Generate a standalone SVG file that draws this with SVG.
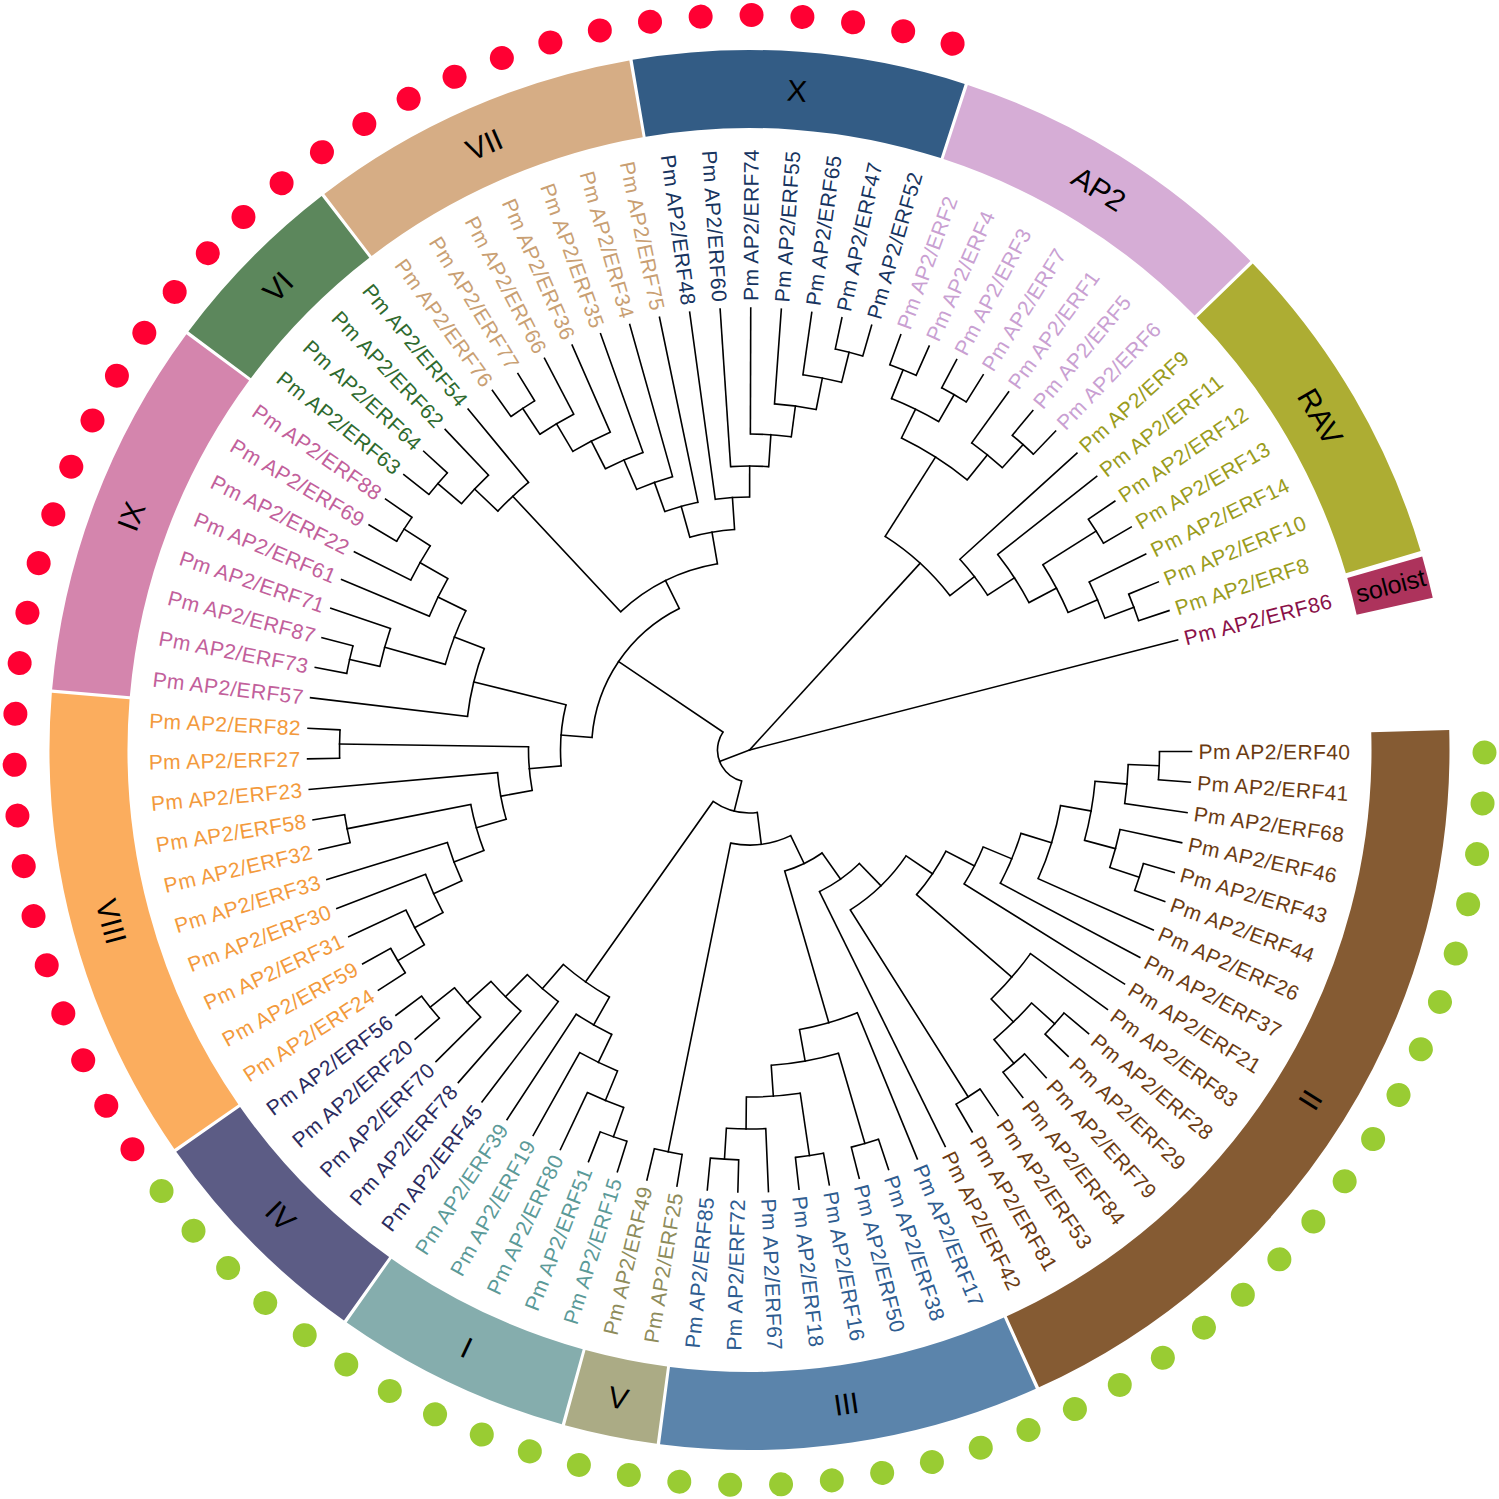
<svg xmlns="http://www.w3.org/2000/svg" width="1499" height="1499" viewBox="0 0 1499 1499">
<style>
.t{font-family:"Liberation Sans",Arial,sans-serif;font-size:21px;letter-spacing:0.4px;dominant-baseline:central}
.e{text-anchor:end}
.c line{stroke:#000;stroke-width:1.6;stroke-linecap:square}
.c circle{fill:none;stroke:#000;stroke-width:1.6}
.b{fill:none;stroke-width:78}
.bl{font-family:"Liberation Sans",Arial,sans-serif;font-size:30px;text-anchor:middle;dominant-baseline:central;fill:#000}
.rd{fill:#ff0033}.gr{fill:#99cc33}
.c2{fill:#6b3b12}.c3{fill:#2e5c90}.c5{fill:#8e8c5b}.c1{fill:#5b9a98}.c4{fill:#2b2b5e}.c8{fill:#f39a3c}.c9{fill:#c2609b}.c6{fill:#2e6a2e}.c7{fill:#c99f73}.cX{fill:#173460}.cA{fill:#c9a0d2}.cR{fill:#9a9c1c}.cS{fill:#8a1048}
</style>
<rect width="1499" height="1499" fill="#fff"/>
<g transform="translate(749.5,750)">
<g id="bands">
<circle class="b" r="661" stroke="#855b33" pathLength="360" stroke-dasharray="67.2 400" transform="rotate(-1.635)"/>
<circle class="b" r="661" stroke="#5b84ab" pathLength="360" stroke-dasharray="31.49 400" transform="rotate(65.855)"/>
<circle class="b" r="661" stroke="#abab85" pathLength="360" stroke-dasharray="7.67 400" transform="rotate(97.615)"/>
<circle class="b" r="661" stroke="#85adad" pathLength="360" stroke-dasharray="19.58 400" transform="rotate(105.555)"/>
<circle class="b" r="661" stroke="#5c5c85" pathLength="360" stroke-dasharray="19.58 400" transform="rotate(125.405)"/>
<circle class="b" r="661" stroke="#fbad5e" pathLength="360" stroke-dasharray="39.43 400" transform="rotate(145.255)"/>
<circle class="b" r="661" stroke="#d485ad" pathLength="360" stroke-dasharray="31.49 400" transform="rotate(184.955)"/>
<circle class="b" r="661" stroke="#5c875c" pathLength="360" stroke-dasharray="15.61 400" transform="rotate(216.715)"/>
<circle class="b" r="661" stroke="#d6ad85" pathLength="360" stroke-dasharray="27.52 400" transform="rotate(232.595)"/>
<circle class="b" r="661" stroke="#335c85" pathLength="360" stroke-dasharray="27.52 400" transform="rotate(260.385)"/>
<circle class="b" r="661" stroke="#d6add6" pathLength="360" stroke-dasharray="27.52 400" transform="rotate(288.175)"/>
<circle class="b" r="661" stroke="#adad33" pathLength="360" stroke-dasharray="27.52 400" transform="rotate(315.965)"/>
<circle class="b" r="661" stroke="#ad335c" pathLength="360" stroke-dasharray="3.5 400" transform="rotate(343.95)"/>
<text class="bl" transform="rotate(31.96)translate(661)rotate(-90)">II</text>
<text class="bl" transform="rotate(81.57)translate(661)rotate(-90)">III</text>
<text class="bl" transform="rotate(101.44)translate(661)rotate(-90)">V</text>
<text class="bl" transform="rotate(115.33)translate(661)rotate(-90)">I</text>
<text class="bl" transform="rotate(135.18)translate(661)rotate(-90)">IV</text>
<text class="bl" transform="rotate(164.96)translate(661)rotate(-90)">VIII</text>
<text class="bl" transform="rotate(200.7)translate(661)rotate(90)">IX</text>
<text class="bl" transform="rotate(224.5)translate(661)rotate(90)">VI</text>
<text class="bl" transform="rotate(246.34)translate(661)rotate(90)">VII</text>
<text class="bl" transform="rotate(274.13)translate(661)rotate(90)">X</text>
<text class="bl" transform="rotate(301.92)translate(661)rotate(90)">AP2</text>
<text class="bl" transform="rotate(329.71)translate(661)rotate(90)">RAV</text>
<text class="bl" style="font-size:25px" transform="rotate(345.59)translate(662)">soloist</text>
</g>
<g id="dots">
<circle class="gr" cx="735" r="12" transform="rotate(0.20)"/>
<circle class="gr" cx="735" r="12" transform="rotate(4.17)"/>
<circle class="gr" cx="735" r="12" transform="rotate(8.14)"/>
<circle class="gr" cx="735" r="12" transform="rotate(12.11)"/>
<circle class="gr" cx="735" r="12" transform="rotate(16.08)"/>
<circle class="gr" cx="735" r="12" transform="rotate(20.05)"/>
<circle class="gr" cx="735" r="12" transform="rotate(24.02)"/>
<circle class="gr" cx="735" r="12" transform="rotate(27.99)"/>
<circle class="gr" cx="735" r="12" transform="rotate(31.96)"/>
<circle class="gr" cx="735" r="12" transform="rotate(35.93)"/>
<circle class="gr" cx="735" r="12" transform="rotate(39.90)"/>
<circle class="gr" cx="735" r="12" transform="rotate(43.87)"/>
<circle class="gr" cx="735" r="12" transform="rotate(47.84)"/>
<circle class="gr" cx="735" r="12" transform="rotate(51.81)"/>
<circle class="gr" cx="735" r="12" transform="rotate(55.78)"/>
<circle class="gr" cx="735" r="12" transform="rotate(59.75)"/>
<circle class="gr" cx="735" r="12" transform="rotate(63.72)"/>
<circle class="gr" cx="735" r="12" transform="rotate(67.69)"/>
<circle class="gr" cx="735" r="12" transform="rotate(71.66)"/>
<circle class="gr" cx="735" r="12" transform="rotate(75.63)"/>
<circle class="gr" cx="735" r="12" transform="rotate(79.60)"/>
<circle class="gr" cx="735" r="12" transform="rotate(83.57)"/>
<circle class="gr" cx="735" r="12" transform="rotate(87.54)"/>
<circle class="gr" cx="735" r="12" transform="rotate(91.51)"/>
<circle class="gr" cx="735" r="12" transform="rotate(95.48)"/>
<circle class="gr" cx="735" r="12" transform="rotate(99.45)"/>
<circle class="gr" cx="735" r="12" transform="rotate(103.42)"/>
<circle class="gr" cx="735" r="12" transform="rotate(107.39)"/>
<circle class="gr" cx="735" r="12" transform="rotate(111.36)"/>
<circle class="gr" cx="735" r="12" transform="rotate(115.33)"/>
<circle class="gr" cx="735" r="12" transform="rotate(119.30)"/>
<circle class="gr" cx="735" r="12" transform="rotate(123.27)"/>
<circle class="gr" cx="735" r="12" transform="rotate(127.24)"/>
<circle class="gr" cx="735" r="12" transform="rotate(131.21)"/>
<circle class="gr" cx="735" r="12" transform="rotate(135.18)"/>
<circle class="gr" cx="735" r="12" transform="rotate(139.15)"/>
<circle class="gr" cx="735" r="12" transform="rotate(143.12)"/>
<circle class="rd" cx="735" r="12" transform="rotate(147.09)"/>
<circle class="rd" cx="735" r="12" transform="rotate(151.06)"/>
<circle class="rd" cx="735" r="12" transform="rotate(155.03)"/>
<circle class="rd" cx="735" r="12" transform="rotate(159.00)"/>
<circle class="rd" cx="735" r="12" transform="rotate(162.97)"/>
<circle class="rd" cx="735" r="12" transform="rotate(166.94)"/>
<circle class="rd" cx="735" r="12" transform="rotate(170.91)"/>
<circle class="rd" cx="735" r="12" transform="rotate(174.88)"/>
<circle class="rd" cx="735" r="12" transform="rotate(178.85)"/>
<circle class="rd" cx="735" r="12" transform="rotate(182.82)"/>
<circle class="rd" cx="735" r="12" transform="rotate(186.79)"/>
<circle class="rd" cx="735" r="12" transform="rotate(190.76)"/>
<circle class="rd" cx="735" r="12" transform="rotate(194.73)"/>
<circle class="rd" cx="735" r="12" transform="rotate(198.70)"/>
<circle class="rd" cx="735" r="12" transform="rotate(202.67)"/>
<circle class="rd" cx="735" r="12" transform="rotate(206.64)"/>
<circle class="rd" cx="735" r="12" transform="rotate(210.61)"/>
<circle class="rd" cx="735" r="12" transform="rotate(214.58)"/>
<circle class="rd" cx="735" r="12" transform="rotate(218.55)"/>
<circle class="rd" cx="735" r="12" transform="rotate(222.52)"/>
<circle class="rd" cx="735" r="12" transform="rotate(226.49)"/>
<circle class="rd" cx="735" r="12" transform="rotate(230.46)"/>
<circle class="rd" cx="735" r="12" transform="rotate(234.43)"/>
<circle class="rd" cx="735" r="12" transform="rotate(238.40)"/>
<circle class="rd" cx="735" r="12" transform="rotate(242.37)"/>
<circle class="rd" cx="735" r="12" transform="rotate(246.34)"/>
<circle class="rd" cx="735" r="12" transform="rotate(250.31)"/>
<circle class="rd" cx="735" r="12" transform="rotate(254.28)"/>
<circle class="rd" cx="735" r="12" transform="rotate(258.25)"/>
<circle class="rd" cx="735" r="12" transform="rotate(262.22)"/>
<circle class="rd" cx="735" r="12" transform="rotate(266.19)"/>
<circle class="rd" cx="735" r="12" transform="rotate(270.16)"/>
<circle class="rd" cx="735" r="12" transform="rotate(274.13)"/>
<circle class="rd" cx="735" r="12" transform="rotate(278.10)"/>
<circle class="rd" cx="735" r="12" transform="rotate(282.07)"/>
<circle class="rd" cx="735" r="12" transform="rotate(286.04)"/>
</g>
<g id="connectors" class="c">
<line x2="442" transform="rotate(345.59)"/>
<line x2="253" transform="rotate(312.41)"/>
<line x2="32" transform="rotate(159.07)"/>
<circle r="253" pathLength="360" stroke-dasharray="19.97 400" transform="rotate(302.42)"/>
<line x1="253" x2="347" transform="rotate(302.42)"/>
<circle r="347" pathLength="360" stroke-dasharray="12.9 400" transform="rotate(295.97)"/>
<line x1="347" x2="379" transform="rotate(295.97)"/>
<circle r="379" pathLength="360" stroke-dasharray="7.94 400" transform="rotate(292.0)"/>
<line x1="379" x2="410" transform="rotate(292.0)"/>
<circle r="410" pathLength="360" stroke-dasharray="3.97 400" transform="rotate(290.01)"/>
<line x1="410" x2="442" transform="rotate(290.01)"/>
<line x1="410" x2="442" transform="rotate(293.98)"/>
<line x1="379" x2="410" transform="rotate(299.94)"/>
<circle r="410" pathLength="360" stroke-dasharray="3.97 400" transform="rotate(297.95)"/>
<line x1="410" x2="442" transform="rotate(297.95)"/>
<line x1="410" x2="442" transform="rotate(301.92)"/>
<line x1="347" x2="379" transform="rotate(308.87)"/>
<circle r="379" pathLength="360" stroke-dasharray="5.96 400" transform="rotate(305.89)"/>
<line x1="379" x2="442" transform="rotate(305.89)"/>
<line x1="379" x2="410" transform="rotate(311.85)"/>
<circle r="410" pathLength="360" stroke-dasharray="3.97 400" transform="rotate(309.86)"/>
<line x1="410" x2="442" transform="rotate(309.86)"/>
<line x1="410" x2="442" transform="rotate(313.83)"/>
<line x1="253" x2="284" transform="rotate(322.39)"/>
<circle r="284" pathLength="360" stroke-dasharray="9.18 400" transform="rotate(317.80)"/>
<line x1="284" x2="442" transform="rotate(317.80)"/>
<line x1="284" x2="316" transform="rotate(326.98)"/>
<circle r="316" pathLength="360" stroke-dasharray="10.42 400" transform="rotate(321.77)"/>
<line x1="316" x2="442" transform="rotate(321.77)"/>
<line x1="316" x2="347" transform="rotate(332.19)"/>
<circle r="347" pathLength="360" stroke-dasharray="8.93 400" transform="rotate(327.73)"/>
<line x1="347" x2="410" transform="rotate(327.73)"/>
<circle r="410" pathLength="360" stroke-dasharray="3.97 400" transform="rotate(325.74)"/>
<line x1="410" x2="442" transform="rotate(325.74)"/>
<line x1="410" x2="442" transform="rotate(329.71)"/>
<line x1="347" x2="379" transform="rotate(336.66)"/>
<circle r="379" pathLength="360" stroke-dasharray="5.96 400" transform="rotate(333.68)"/>
<line x1="379" x2="442" transform="rotate(333.68)"/>
<line x1="379" x2="410" transform="rotate(339.64)"/>
<circle r="410" pathLength="360" stroke-dasharray="3.97 400" transform="rotate(337.65)"/>
<line x1="410" x2="442" transform="rotate(337.65)"/>
<line x1="410" x2="442" transform="rotate(341.62)"/>
<circle r="32" pathLength="360" stroke-dasharray="109.99 400" transform="rotate(104.07)"/>
<line x1="32" x2="63" transform="rotate(104.07)"/>
<line x1="32" x2="158" transform="rotate(214.06)"/>
<circle r="158" pathLength="360" stroke-dasharray="59.1 400" transform="rotate(184.51)"/>
<line x1="158" x2="189" transform="rotate(184.51)"/>
<circle r="189" pathLength="360" stroke-dasharray="18.7 400" transform="rotate(175.16)"/>
<line x1="189" x2="221" transform="rotate(175.16)"/>
<circle r="221" pathLength="360" stroke-dasharray="11.36 400" transform="rotate(169.48)"/>
<line x1="221" x2="410" transform="rotate(180.84)"/>
<circle r="410" pathLength="360" stroke-dasharray="3.97 400" transform="rotate(178.85)"/>
<line x1="410" x2="442" transform="rotate(178.85)"/>
<line x1="410" x2="442" transform="rotate(182.82)"/>
<line x1="221" x2="253" transform="rotate(169.48)"/>
<circle r="253" pathLength="360" stroke-dasharray="10.79 400" transform="rotate(164.09)"/>
<line x1="253" x2="442" transform="rotate(174.88)"/>
<line x1="253" x2="284" transform="rotate(164.09)"/>
<circle r="284" pathLength="360" stroke-dasharray="9.68 400" transform="rotate(159.25)"/>
<line x1="284" x2="410" transform="rotate(168.93)"/>
<circle r="410" pathLength="360" stroke-dasharray="3.97 400" transform="rotate(166.94)"/>
<line x1="410" x2="442" transform="rotate(166.94)"/>
<line x1="410" x2="442" transform="rotate(170.91)"/>
<line x1="284" x2="316" transform="rotate(159.25)"/>
<circle r="316" pathLength="360" stroke-dasharray="7.44 400" transform="rotate(155.53)"/>
<line x1="316" x2="442" transform="rotate(162.97)"/>
<line x1="316" x2="347" transform="rotate(155.53)"/>
<circle r="347" pathLength="360" stroke-dasharray="6.95 400" transform="rotate(152.05)"/>
<line x1="347" x2="442" transform="rotate(159.00)"/>
<line x1="347" x2="379" transform="rotate(152.05)"/>
<circle r="379" pathLength="360" stroke-dasharray="5.95 400" transform="rotate(149.08)"/>
<line x1="379" x2="442" transform="rotate(155.03)"/>
<line x1="379" x2="410" transform="rotate(149.08)"/>
<circle r="410" pathLength="360" stroke-dasharray="3.97 400" transform="rotate(147.09)"/>
<line x1="410" x2="442" transform="rotate(147.09)"/>
<line x1="410" x2="442" transform="rotate(151.06)"/>
<line x1="189" x2="284" transform="rotate(193.86)"/>
<circle r="284" pathLength="360" stroke-dasharray="14.14 400" transform="rotate(186.79)"/>
<line x1="284" x2="442" transform="rotate(186.79)"/>
<line x1="284" x2="316" transform="rotate(200.93)"/>
<circle r="316" pathLength="360" stroke-dasharray="10.43 400" transform="rotate(195.72)"/>
<line x1="316" x2="379" transform="rotate(195.72)"/>
<circle r="379" pathLength="360" stroke-dasharray="5.95 400" transform="rotate(192.75)"/>
<line x1="379" x2="410" transform="rotate(192.75)"/>
<circle r="410" pathLength="360" stroke-dasharray="3.97 400" transform="rotate(190.76)"/>
<line x1="410" x2="442" transform="rotate(190.76)"/>
<line x1="410" x2="442" transform="rotate(194.73)"/>
<line x1="379" x2="442" transform="rotate(198.70)"/>
<line x1="316" x2="347" transform="rotate(206.15)"/>
<circle r="347" pathLength="360" stroke-dasharray="6.95 400" transform="rotate(202.67)"/>
<line x1="347" x2="442" transform="rotate(202.67)"/>
<line x1="347" x2="379" transform="rotate(209.62)"/>
<circle r="379" pathLength="360" stroke-dasharray="5.96 400" transform="rotate(206.64)"/>
<line x1="379" x2="442" transform="rotate(206.64)"/>
<line x1="379" x2="410" transform="rotate(212.6)"/>
<circle r="410" pathLength="360" stroke-dasharray="3.97 400" transform="rotate(210.61)"/>
<line x1="410" x2="442" transform="rotate(210.61)"/>
<line x1="410" x2="442" transform="rotate(214.58)"/>
<line x1="158" x2="189" transform="rotate(243.61)"/>
<circle r="189" pathLength="360" stroke-dasharray="33.24 400" transform="rotate(226.99)"/>
<line x1="189" x2="347" transform="rotate(226.99)"/>
<circle r="347" pathLength="360" stroke-dasharray="6.95 400" transform="rotate(223.51)"/>
<line x1="347" x2="442" transform="rotate(230.46)"/>
<line x1="347" x2="379" transform="rotate(223.51)"/>
<circle r="379" pathLength="360" stroke-dasharray="5.96 400" transform="rotate(220.53)"/>
<line x1="379" x2="442" transform="rotate(226.49)"/>
<line x1="379" x2="410" transform="rotate(220.53)"/>
<circle r="410" pathLength="360" stroke-dasharray="3.97 400" transform="rotate(218.55)"/>
<line x1="410" x2="442" transform="rotate(218.55)"/>
<line x1="410" x2="442" transform="rotate(222.52)"/>
<line x1="189" x2="221" transform="rotate(260.23)"/>
<circle r="221" pathLength="360" stroke-dasharray="11.79 400" transform="rotate(254.34)"/>
<line x1="221" x2="253" transform="rotate(254.34)"/>
<circle r="253" pathLength="360" stroke-dasharray="7.81 400" transform="rotate(250.44)"/>
<line x1="253" x2="442" transform="rotate(258.25)"/>
<line x1="253" x2="284" transform="rotate(250.44)"/>
<circle r="284" pathLength="360" stroke-dasharray="7.69 400" transform="rotate(246.59)"/>
<line x1="284" x2="442" transform="rotate(254.28)"/>
<line x1="284" x2="316" transform="rotate(246.59)"/>
<circle r="316" pathLength="360" stroke-dasharray="7.44 400" transform="rotate(242.87)"/>
<line x1="316" x2="442" transform="rotate(250.31)"/>
<line x1="316" x2="347" transform="rotate(242.87)"/>
<circle r="347" pathLength="360" stroke-dasharray="6.95 400" transform="rotate(239.39)"/>
<line x1="347" x2="442" transform="rotate(246.34)"/>
<line x1="347" x2="379" transform="rotate(239.39)"/>
<circle r="379" pathLength="360" stroke-dasharray="5.95 400" transform="rotate(236.42)"/>
<line x1="379" x2="442" transform="rotate(242.37)"/>
<line x1="379" x2="410" transform="rotate(236.42)"/>
<circle r="410" pathLength="360" stroke-dasharray="3.97 400" transform="rotate(234.43)"/>
<line x1="410" x2="442" transform="rotate(234.43)"/>
<line x1="410" x2="442" transform="rotate(238.40)"/>
<line x1="221" x2="253" transform="rotate(266.13)"/>
<circle r="253" pathLength="360" stroke-dasharray="7.81 400" transform="rotate(262.22)"/>
<line x1="253" x2="442" transform="rotate(262.22)"/>
<line x1="253" x2="284" transform="rotate(270.03)"/>
<circle r="284" pathLength="360" stroke-dasharray="7.69 400" transform="rotate(266.19)"/>
<line x1="284" x2="442" transform="rotate(266.19)"/>
<line x1="284" x2="316" transform="rotate(273.88)"/>
<circle r="316" pathLength="360" stroke-dasharray="7.44 400" transform="rotate(270.16)"/>
<line x1="316" x2="442" transform="rotate(270.16)"/>
<line x1="316" x2="347" transform="rotate(277.6)"/>
<circle r="347" pathLength="360" stroke-dasharray="6.95 400" transform="rotate(274.13)"/>
<line x1="347" x2="442" transform="rotate(274.13)"/>
<line x1="347" x2="379" transform="rotate(281.08)"/>
<circle r="379" pathLength="360" stroke-dasharray="5.96 400" transform="rotate(278.10)"/>
<line x1="379" x2="442" transform="rotate(278.10)"/>
<line x1="379" x2="410" transform="rotate(284.06)"/>
<circle r="410" pathLength="360" stroke-dasharray="3.97 400" transform="rotate(282.07)"/>
<line x1="410" x2="442" transform="rotate(282.07)"/>
<line x1="410" x2="442" transform="rotate(286.04)"/>
<circle r="63" pathLength="360" stroke-dasharray="42.39 400" transform="rotate(82.87)"/>
<line x1="63" x2="284" transform="rotate(125.26)"/>
<circle r="284" pathLength="360" stroke-dasharray="11.41 400" transform="rotate(119.55)"/>
<line x1="284" x2="316" transform="rotate(119.55)"/>
<circle r="316" pathLength="360" stroke-dasharray="7.44 400" transform="rotate(115.83)"/>
<line x1="316" x2="442" transform="rotate(123.27)"/>
<line x1="316" x2="347" transform="rotate(115.83)"/>
<circle r="347" pathLength="360" stroke-dasharray="6.95 400" transform="rotate(112.35)"/>
<line x1="347" x2="442" transform="rotate(119.30)"/>
<line x1="347" x2="379" transform="rotate(112.35)"/>
<circle r="379" pathLength="360" stroke-dasharray="5.95 400" transform="rotate(109.38)"/>
<line x1="379" x2="442" transform="rotate(115.33)"/>
<line x1="379" x2="410" transform="rotate(109.38)"/>
<circle r="410" pathLength="360" stroke-dasharray="3.97 400" transform="rotate(107.39)"/>
<line x1="410" x2="442" transform="rotate(107.39)"/>
<line x1="410" x2="442" transform="rotate(111.36)"/>
<line x1="284" x2="316" transform="rotate(130.96)"/>
<circle r="316" pathLength="360" stroke-dasharray="7.45 400" transform="rotate(127.24)"/>
<line x1="316" x2="442" transform="rotate(127.24)"/>
<line x1="316" x2="347" transform="rotate(134.69)"/>
<circle r="347" pathLength="360" stroke-dasharray="6.95 400" transform="rotate(131.21)"/>
<line x1="347" x2="442" transform="rotate(131.21)"/>
<line x1="347" x2="379" transform="rotate(138.16)"/>
<circle r="379" pathLength="360" stroke-dasharray="5.96 400" transform="rotate(135.18)"/>
<line x1="379" x2="442" transform="rotate(135.18)"/>
<line x1="379" x2="410" transform="rotate(141.14)"/>
<circle r="410" pathLength="360" stroke-dasharray="3.97 400" transform="rotate(139.15)"/>
<line x1="410" x2="442" transform="rotate(139.15)"/>
<line x1="410" x2="442" transform="rotate(143.12)"/>
<line x1="63" x2="95" transform="rotate(82.87)"/>
<circle r="95" pathLength="360" stroke-dasharray="37.14 400" transform="rotate(64.3)"/>
<line x1="95" x2="410" transform="rotate(101.44)"/>
<circle r="410" pathLength="360" stroke-dasharray="3.97 400" transform="rotate(99.45)"/>
<line x1="410" x2="442" transform="rotate(99.45)"/>
<line x1="410" x2="442" transform="rotate(103.42)"/>
<line x1="95" x2="126" transform="rotate(64.3)"/>
<circle r="126" pathLength="360" stroke-dasharray="18.96 400" transform="rotate(54.82)"/>
<line x1="126" x2="284" transform="rotate(73.78)"/>
<circle r="284" pathLength="360" stroke-dasharray="12.17 400" transform="rotate(67.69)"/>
<line x1="284" x2="442" transform="rotate(67.69)"/>
<line x1="284" x2="316" transform="rotate(79.86)"/>
<circle r="316" pathLength="360" stroke-dasharray="12.41 400" transform="rotate(73.65)"/>
<line x1="316" x2="410" transform="rotate(73.65)"/>
<circle r="410" pathLength="360" stroke-dasharray="3.97 400" transform="rotate(71.66)"/>
<line x1="410" x2="442" transform="rotate(71.66)"/>
<line x1="410" x2="442" transform="rotate(75.63)"/>
<line x1="316" x2="347" transform="rotate(86.06)"/>
<circle r="347" pathLength="360" stroke-dasharray="8.93 400" transform="rotate(81.59)"/>
<line x1="347" x2="410" transform="rotate(81.59)"/>
<circle r="410" pathLength="360" stroke-dasharray="3.97 400" transform="rotate(79.60)"/>
<line x1="410" x2="442" transform="rotate(79.60)"/>
<line x1="410" x2="442" transform="rotate(83.57)"/>
<line x1="347" x2="379" transform="rotate(90.52)"/>
<circle r="379" pathLength="360" stroke-dasharray="5.96 400" transform="rotate(87.54)"/>
<line x1="379" x2="442" transform="rotate(87.54)"/>
<line x1="379" x2="410" transform="rotate(93.5)"/>
<circle r="410" pathLength="360" stroke-dasharray="3.97 400" transform="rotate(91.51)"/>
<line x1="410" x2="442" transform="rotate(91.51)"/>
<line x1="410" x2="442" transform="rotate(95.48)"/>
<line x1="126" x2="158" transform="rotate(54.82)"/>
<circle r="158" pathLength="360" stroke-dasharray="17.8 400" transform="rotate(45.92)"/>
<line x1="158" x2="442" transform="rotate(63.72)"/>
<line x1="158" x2="189" transform="rotate(45.92)"/>
<circle r="189" pathLength="360" stroke-dasharray="23.7 400" transform="rotate(34.07)"/>
<line x1="189" x2="410" transform="rotate(57.77)"/>
<circle r="410" pathLength="360" stroke-dasharray="3.97 400" transform="rotate(55.78)"/>
<line x1="410" x2="442" transform="rotate(55.78)"/>
<line x1="410" x2="442" transform="rotate(59.75)"/>
<line x1="189" x2="221" transform="rotate(34.07)"/>
<circle r="221" pathLength="360" stroke-dasharray="13.65 400" transform="rotate(27.25)"/>
<line x1="221" x2="253" transform="rotate(27.25)"/>
<circle r="253" pathLength="360" stroke-dasharray="9.43 400" transform="rotate(22.53)"/>
<line x1="253" x2="442" transform="rotate(31.96)"/>
<line x1="253" x2="284" transform="rotate(22.53)"/>
<circle r="284" pathLength="360" stroke-dasharray="10.92 400" transform="rotate(17.07)"/>
<line x1="284" x2="442" transform="rotate(27.99)"/>
<line x1="284" x2="316" transform="rotate(17.07)"/>
<circle r="316" pathLength="360" stroke-dasharray="13.9 400" transform="rotate(10.12)"/>
<line x1="316" x2="442" transform="rotate(24.02)"/>
<line x1="316" x2="347" transform="rotate(10.12)"/>
<circle r="347" pathLength="360" stroke-dasharray="9.93 400" transform="rotate(5.16)"/>
<line x1="347" x2="379" transform="rotate(5.16)"/>
<circle r="379" pathLength="360" stroke-dasharray="5.95 400" transform="rotate(2.19)"/>
<line x1="379" x2="442" transform="rotate(8.14)"/>
<line x1="379" x2="410" transform="rotate(2.19)"/>
<circle r="410" pathLength="360" stroke-dasharray="3.97 400" transform="rotate(0.20)"/>
<line x1="410" x2="442" transform="rotate(0.20)"/>
<line x1="410" x2="442" transform="rotate(4.17)"/>
<line x1="347" x2="379" transform="rotate(15.09)"/>
<circle r="379" pathLength="360" stroke-dasharray="5.96 400" transform="rotate(12.11)"/>
<line x1="379" x2="442" transform="rotate(12.11)"/>
<line x1="379" x2="410" transform="rotate(18.07)"/>
<circle r="410" pathLength="360" stroke-dasharray="3.97 400" transform="rotate(16.08)"/>
<line x1="410" x2="442" transform="rotate(16.08)"/>
<line x1="410" x2="442" transform="rotate(20.05)"/>
<line x1="221" x2="347" transform="rotate(40.9)"/>
<circle r="347" pathLength="360" stroke-dasharray="9.93 400" transform="rotate(35.93)"/>
<line x1="347" x2="442" transform="rotate(35.93)"/>
<line x1="347" x2="379" transform="rotate(45.86)"/>
<circle r="379" pathLength="360" stroke-dasharray="7.94 400" transform="rotate(41.89)"/>
<line x1="379" x2="410" transform="rotate(41.89)"/>
<circle r="410" pathLength="360" stroke-dasharray="3.97 400" transform="rotate(39.90)"/>
<line x1="410" x2="442" transform="rotate(39.90)"/>
<line x1="410" x2="442" transform="rotate(43.87)"/>
<line x1="379" x2="410" transform="rotate(49.83)"/>
<circle r="410" pathLength="360" stroke-dasharray="3.97 400" transform="rotate(47.84)"/>
<line x1="410" x2="442" transform="rotate(47.84)"/>
<line x1="410" x2="442" transform="rotate(51.81)"/>
</g>
<g id="leaves">
<g id="ERF40"><text class="t c2" transform="rotate(0.20)translate(449)">Pm AP2/ERF40</text></g>
<g id="ERF41"><text class="t c2" transform="rotate(4.17)translate(449)">Pm AP2/ERF41</text></g>
<g id="ERF68"><text class="t c2" transform="rotate(8.14)translate(449)">Pm AP2/ERF68</text></g>
<g id="ERF46"><text class="t c2" transform="rotate(12.11)translate(449)">Pm AP2/ERF46</text></g>
<g id="ERF43"><text class="t c2" transform="rotate(16.08)translate(449)">Pm AP2/ERF43</text></g>
<g id="ERF44"><text class="t c2" transform="rotate(20.05)translate(449)">Pm AP2/ERF44</text></g>
<g id="ERF26"><text class="t c2" transform="rotate(24.02)translate(449)">Pm AP2/ERF26</text></g>
<g id="ERF37"><text class="t c2" transform="rotate(27.99)translate(449)">Pm AP2/ERF37</text></g>
<g id="ERF21"><text class="t c2" transform="rotate(31.96)translate(449)">Pm AP2/ERF21</text></g>
<g id="ERF83"><text class="t c2" transform="rotate(35.93)translate(449)">Pm AP2/ERF83</text></g>
<g id="ERF28"><text class="t c2" transform="rotate(39.90)translate(449)">Pm AP2/ERF28</text></g>
<g id="ERF29"><text class="t c2" transform="rotate(43.87)translate(449)">Pm AP2/ERF29</text></g>
<g id="ERF79"><text class="t c2" transform="rotate(47.84)translate(449)">Pm AP2/ERF79</text></g>
<g id="ERF84"><text class="t c2" transform="rotate(51.81)translate(449)">Pm AP2/ERF84</text></g>
<g id="ERF53"><text class="t c2" transform="rotate(55.78)translate(449)">Pm AP2/ERF53</text></g>
<g id="ERF81"><text class="t c2" transform="rotate(59.75)translate(449)">Pm AP2/ERF81</text></g>
<g id="ERF42"><text class="t c2" transform="rotate(63.72)translate(449)">Pm AP2/ERF42</text></g>
<g id="ERF17"><text class="t c3" transform="rotate(67.69)translate(449)">Pm AP2/ERF17</text></g>
<g id="ERF38"><text class="t c3" transform="rotate(71.66)translate(449)">Pm AP2/ERF38</text></g>
<g id="ERF50"><text class="t c3" transform="rotate(75.63)translate(449)">Pm AP2/ERF50</text></g>
<g id="ERF16"><text class="t c3" transform="rotate(79.60)translate(449)">Pm AP2/ERF16</text></g>
<g id="ERF18"><text class="t c3" transform="rotate(83.57)translate(449)">Pm AP2/ERF18</text></g>
<g id="ERF67"><text class="t c3" transform="rotate(87.54)translate(449)">Pm AP2/ERF67</text></g>
<g id="ERF72"><text class="t e c3" transform="rotate(91.51)translate(449)rotate(180)">Pm AP2/ERF72</text></g>
<g id="ERF85"><text class="t e c3" transform="rotate(95.48)translate(449)rotate(180)">Pm AP2/ERF85</text></g>
<g id="ERF25"><text class="t e c5" transform="rotate(99.45)translate(449)rotate(180)">Pm AP2/ERF25</text></g>
<g id="ERF49"><text class="t e c5" transform="rotate(103.42)translate(449)rotate(180)">Pm AP2/ERF49</text></g>
<g id="ERF15"><text class="t e c1" transform="rotate(107.39)translate(449)rotate(180)">Pm AP2/ERF15</text></g>
<g id="ERF51"><text class="t e c1" transform="rotate(111.36)translate(449)rotate(180)">Pm AP2/ERF51</text></g>
<g id="ERF80"><text class="t e c1" transform="rotate(115.33)translate(449)rotate(180)">Pm AP2/ERF80</text></g>
<g id="ERF19"><text class="t e c1" transform="rotate(119.30)translate(449)rotate(180)">Pm AP2/ERF19</text></g>
<g id="ERF39"><text class="t e c1" transform="rotate(123.27)translate(449)rotate(180)">Pm AP2/ERF39</text></g>
<g id="ERF45"><text class="t e c4" transform="rotate(127.24)translate(449)rotate(180)">Pm AP2/ERF45</text></g>
<g id="ERF78"><text class="t e c4" transform="rotate(131.21)translate(449)rotate(180)">Pm AP2/ERF78</text></g>
<g id="ERF70"><text class="t e c4" transform="rotate(135.18)translate(449)rotate(180)">Pm AP2/ERF70</text></g>
<g id="ERF20"><text class="t e c4" transform="rotate(139.15)translate(449)rotate(180)">Pm AP2/ERF20</text></g>
<g id="ERF56"><text class="t e c4" transform="rotate(143.12)translate(449)rotate(180)">Pm AP2/ERF56</text></g>
<g id="ERF24"><text class="t e c8" transform="rotate(147.09)translate(449)rotate(180)">Pm AP2/ERF24</text></g>
<g id="ERF59"><text class="t e c8" transform="rotate(151.06)translate(449)rotate(180)">Pm AP2/ERF59</text></g>
<g id="ERF31"><text class="t e c8" transform="rotate(155.03)translate(449)rotate(180)">Pm AP2/ERF31</text></g>
<g id="ERF30"><text class="t e c8" transform="rotate(159.00)translate(449)rotate(180)">Pm AP2/ERF30</text></g>
<g id="ERF33"><text class="t e c8" transform="rotate(162.97)translate(449)rotate(180)">Pm AP2/ERF33</text></g>
<g id="ERF32"><text class="t e c8" transform="rotate(166.94)translate(449)rotate(180)">Pm AP2/ERF32</text></g>
<g id="ERF58"><text class="t e c8" transform="rotate(170.91)translate(449)rotate(180)">Pm AP2/ERF58</text></g>
<g id="ERF23"><text class="t e c8" transform="rotate(174.88)translate(449)rotate(180)">Pm AP2/ERF23</text></g>
<g id="ERF27"><text class="t e c8" transform="rotate(178.85)translate(449)rotate(180)">Pm AP2/ERF27</text></g>
<g id="ERF82"><text class="t e c8" transform="rotate(182.82)translate(449)rotate(180)">Pm AP2/ERF82</text></g>
<g id="ERF57"><text class="t e c9" transform="rotate(186.79)translate(449)rotate(180)">Pm AP2/ERF57</text></g>
<g id="ERF73"><text class="t e c9" transform="rotate(190.76)translate(449)rotate(180)">Pm AP2/ERF73</text></g>
<g id="ERF87"><text class="t e c9" transform="rotate(194.73)translate(449)rotate(180)">Pm AP2/ERF87</text></g>
<g id="ERF71"><text class="t e c9" transform="rotate(198.70)translate(449)rotate(180)">Pm AP2/ERF71</text></g>
<g id="ERF61"><text class="t e c9" transform="rotate(202.67)translate(449)rotate(180)">Pm AP2/ERF61</text></g>
<g id="ERF22"><text class="t e c9" transform="rotate(206.64)translate(449)rotate(180)">Pm AP2/ERF22</text></g>
<g id="ERF69"><text class="t e c9" transform="rotate(210.61)translate(449)rotate(180)">Pm AP2/ERF69</text></g>
<g id="ERF88"><text class="t e c9" transform="rotate(214.58)translate(449)rotate(180)">Pm AP2/ERF88</text></g>
<g id="ERF63"><text class="t e c6" transform="rotate(218.55)translate(449)rotate(180)">Pm AP2/ERF63</text></g>
<g id="ERF64"><text class="t e c6" transform="rotate(222.52)translate(449)rotate(180)">Pm AP2/ERF64</text></g>
<g id="ERF62"><text class="t e c6" transform="rotate(226.49)translate(449)rotate(180)">Pm AP2/ERF62</text></g>
<g id="ERF54"><text class="t e c6" transform="rotate(230.46)translate(449)rotate(180)">Pm AP2/ERF54</text></g>
<g id="ERF76"><text class="t e c7" transform="rotate(234.43)translate(449)rotate(180)">Pm AP2/ERF76</text></g>
<g id="ERF77"><text class="t e c7" transform="rotate(238.40)translate(449)rotate(180)">Pm AP2/ERF77</text></g>
<g id="ERF66"><text class="t e c7" transform="rotate(242.37)translate(449)rotate(180)">Pm AP2/ERF66</text></g>
<g id="ERF36"><text class="t e c7" transform="rotate(246.34)translate(449)rotate(180)">Pm AP2/ERF36</text></g>
<g id="ERF35"><text class="t e c7" transform="rotate(250.31)translate(449)rotate(180)">Pm AP2/ERF35</text></g>
<g id="ERF34"><text class="t e c7" transform="rotate(254.28)translate(449)rotate(180)">Pm AP2/ERF34</text></g>
<g id="ERF75"><text class="t e c7" transform="rotate(258.25)translate(449)rotate(180)">Pm AP2/ERF75</text></g>
<g id="ERF48"><text class="t e cX" transform="rotate(262.22)translate(449)rotate(180)">Pm AP2/ERF48</text></g>
<g id="ERF60"><text class="t e cX" transform="rotate(266.19)translate(449)rotate(180)">Pm AP2/ERF60</text></g>
<g id="ERF74"><text class="t cX" transform="rotate(270.16)translate(449)">Pm AP2/ERF74</text></g>
<g id="ERF55"><text class="t cX" transform="rotate(274.13)translate(449)">Pm AP2/ERF55</text></g>
<g id="ERF65"><text class="t cX" transform="rotate(278.10)translate(449)">Pm AP2/ERF65</text></g>
<g id="ERF47"><text class="t cX" transform="rotate(282.07)translate(449)">Pm AP2/ERF47</text></g>
<g id="ERF52"><text class="t cX" transform="rotate(286.04)translate(449)">Pm AP2/ERF52</text></g>
<g id="ERF2"><text class="t cA" transform="rotate(290.01)translate(449)">Pm AP2/ERF2</text></g>
<g id="ERF4"><text class="t cA" transform="rotate(293.98)translate(449)">Pm AP2/ERF4</text></g>
<g id="ERF3"><text class="t cA" transform="rotate(297.95)translate(449)">Pm AP2/ERF3</text></g>
<g id="ERF7"><text class="t cA" transform="rotate(301.92)translate(449)">Pm AP2/ERF7</text></g>
<g id="ERF1"><text class="t cA" transform="rotate(305.89)translate(449)">Pm AP2/ERF1</text></g>
<g id="ERF5"><text class="t cA" transform="rotate(309.86)translate(449)">Pm AP2/ERF5</text></g>
<g id="ERF6"><text class="t cA" transform="rotate(313.83)translate(449)">Pm AP2/ERF6</text></g>
<g id="ERF9"><text class="t cR" transform="rotate(317.80)translate(449)">Pm AP2/ERF9</text></g>
<g id="ERF11"><text class="t cR" transform="rotate(321.77)translate(449)">Pm AP2/ERF11</text></g>
<g id="ERF12"><text class="t cR" transform="rotate(325.74)translate(449)">Pm AP2/ERF12</text></g>
<g id="ERF13"><text class="t cR" transform="rotate(329.71)translate(449)">Pm AP2/ERF13</text></g>
<g id="ERF14"><text class="t cR" transform="rotate(333.68)translate(449)">Pm AP2/ERF14</text></g>
<g id="ERF10"><text class="t cR" transform="rotate(337.65)translate(449)">Pm AP2/ERF10</text></g>
<g id="ERF8"><text class="t cR" transform="rotate(341.62)translate(449)">Pm AP2/ERF8</text></g>
<g id="ERF86"><text class="t cS" transform="rotate(345.59)translate(449)">Pm AP2/ERF86</text></g>
</g>
</g>
</svg>
